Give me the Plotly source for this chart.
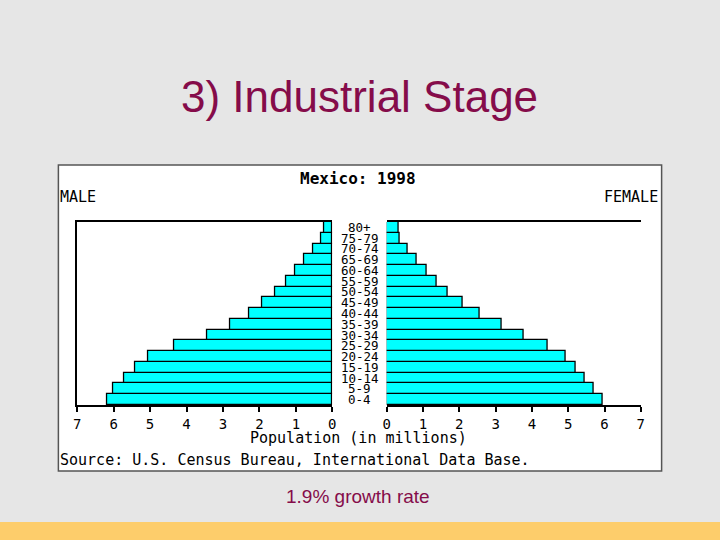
"""Mexico 1998 population pyramid — slide "3) Industrial Stage"."""
import plotly.graph_objects as go

# data ---------------------------------------------------------------
ages = ["0-4", "5-9", "10-14", "15-19", "20-24", "25-29", "30-34", "35-39",
        "40-44", "45-49", "50-54", "55-59", "60-64", "65-69", "70-74",
        "75-79", "80+"]
male = [6.19, 6.0, 5.70, 5.41, 5.05, 4.33, 3.43, 2.80, 2.27, 1.93,
        1.57, 1.27, 1.03, 0.76, 0.52, 0.30, 0.22]
female = [5.94, 5.71, 5.46, 5.21, 4.94, 4.43, 3.76, 3.16, 2.57, 2.10,
          1.69, 1.37, 1.11, 0.82, 0.57, 0.35, 0.32]
x_ticks = [0, 1, 2, 3, 4, 5, 6, 7]

W, H = 720, 540
MONO = "DejaVu Sans Mono"
MAROON = "#850C4A"


def px(x):
    return x / W


def py(y):
    return 1 - y / H


fig = go.Figure()
bar_style = dict(orientation="h", marker=dict(color="#00FFFF",
                 line=dict(color="black", width=1.3)), showlegend=False)
fig.add_trace(go.Bar(y=ages, x=male, xaxis="x", yaxis="y", **bar_style))
fig.add_trace(go.Bar(y=ages, x=female, xaxis="x2", yaxis="y", **bar_style))

axis_common = dict(tickvals=x_ticks, ticks="outside", ticklen=5,
                   tickwidth=1.5, tickcolor="black", showline=True,
                   linecolor="black", linewidth=1.5, mirror=True,
                   showgrid=False, zeroline=False, anchor="y",
                   tickfont=dict(family=MONO, size=14, color="black"))
fig.update_layout(
    width=W, height=H,
    margin=dict(l=0, r=0, t=0, b=0),
    paper_bgcolor="#E6E6E6", plot_bgcolor="rgba(0,0,0,0)",
    bargap=0,
    xaxis={**axis_common, "domain": [px(74), px(332)], "range": [7, 0]},
    xaxis2={**axis_common, "domain": [px(387), px(644)], "range": [0, 7]},
    yaxis=dict(domain=[py(405), py(222)], type="category",
               categoryorder="array", categoryarray=ages,
               range=[-0.5, len(ages) - 0.5], anchor="x", side="left",
               showline=True, linecolor="black", linewidth=1.5,
               showticklabels=False, ticks="", showgrid=False),
    yaxis2=dict(overlaying="y", matches="y", anchor="x2", side="right",
                showline=True, linecolor="black", linewidth=1.5,
                showticklabels=False, ticks="", showgrid=False),
)

# slide decoration -----------------------------------------------------
fig.add_shape(type="rect", xref="paper", yref="paper",
              x0=px(55), x1=px(665), y0=py(471), y1=py(165),
              fillcolor="white", line=dict(color="#555555", width=1.5),
              layer="below")
fig.add_shape(type="rect", xref="paper", yref="paper",
              x0=-0.02, x1=1.02, y0=-0.02, y1=py(522),
              fillcolor="#FDCD6B", line=dict(width=0), layer="below")

# age labels between the two halves
for a in ages:
    fig.add_annotation(x=px(359.5), y=a, xref="paper", yref="y", text=a,
                       showarrow=False, xanchor="center", yanchor="middle",
                       font=dict(family=MONO, size=12.5, color="black"))

texts = [
    ("3) Industrial Stage", 359.5, 97, "center",
     dict(family="Liberation Sans", size=44, color=MAROON)),
    ("<b>Mexico: 1998</b>", 358, 178, "center",
     dict(family=MONO, size=16, color="black")),
    ("MALE", 55, 197, "left", dict(family=MONO, size=15, color="black")),
    ("FEMALE", 663, 197, "right", dict(family=MONO, size=15, color="black")),
    ("Population (in millions)", 358, 438, "center",
     dict(family=MONO, size=15, color="black")),
    ("Source: U.S. Census Bureau, International Data Base.", 55, 460, "left",
     dict(family=MONO, size=15, color="black")),
    ("1.9% growth rate", 358, 496, "center",
     dict(family="Liberation Sans", size=19, color=MAROON)),
]
for txt, x, y, anchor, font in texts:
    fig.add_annotation(x=px(x), y=py(y), xref="paper", yref="paper",
                       text=txt, showarrow=False, xanchor=anchor,
                       yanchor="middle", font=font)

# page has a default 8px body margin; drop it so the figure fills the window
fig.write_html("out.html", config={"displayModeBar": False},
               post_script="document.body.style.margin='0';"
                           "document.body.style.overflow='hidden';")
